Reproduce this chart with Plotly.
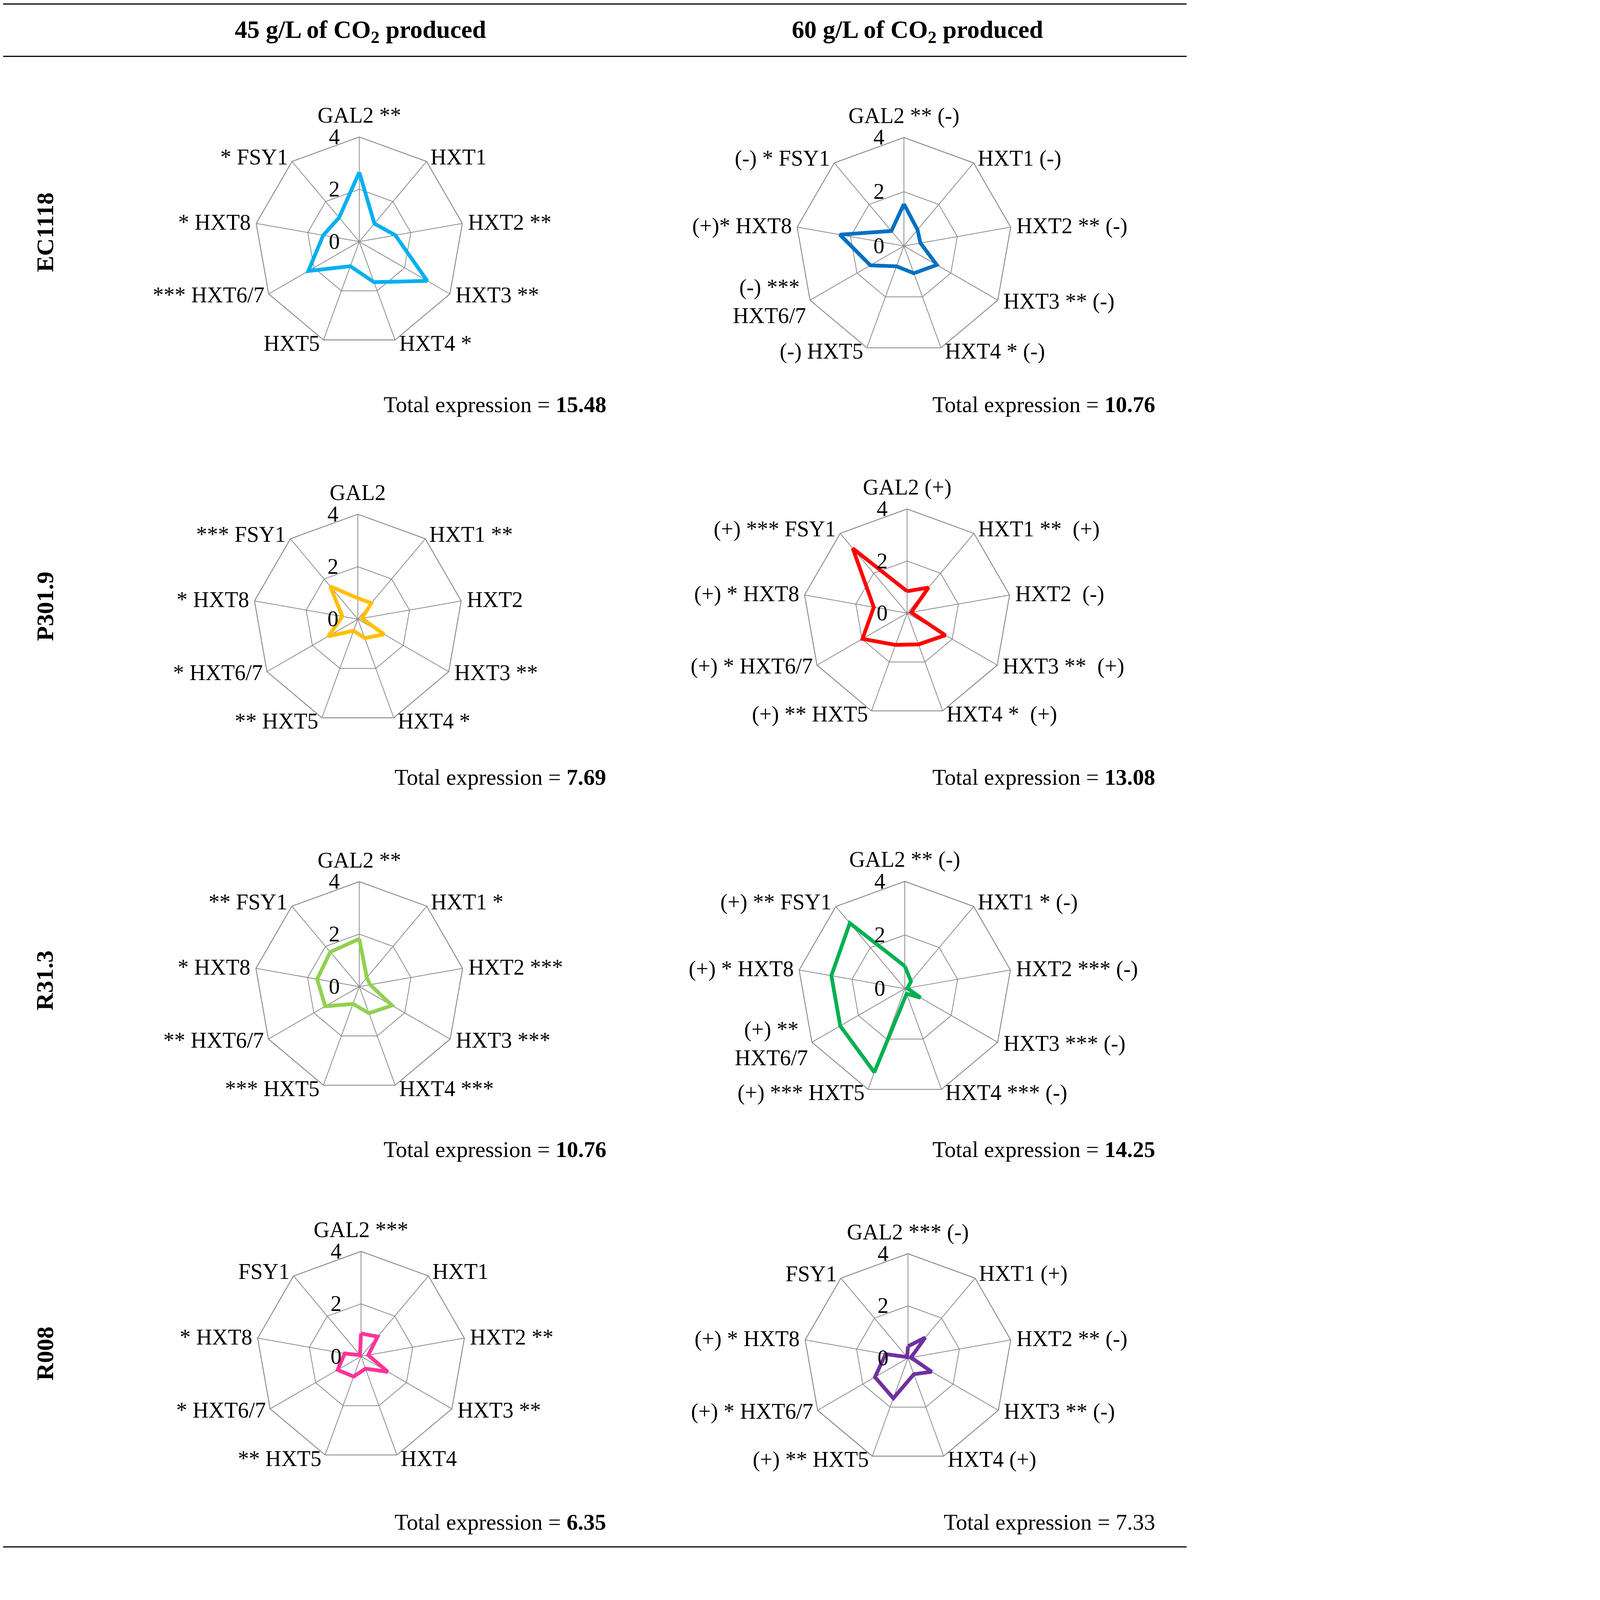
import math

import plotly.graph_objects as go

# reference page size; the browser window is capped at 4096 px, so the whole
# figure is drawn at a uniform scale that fits inside it
W, H = 4351, 5486
S = 0.74
FONT = "Liberation Serif"
GRID = "#8c8c8c"

# ---- data -----------------------------------------------------------------
GENES = ["GAL2", "HXT1", "HXT2", "HXT3", "HXT4", "HXT5", "HXT6/7", "HXT8", "FSY1"]
STRAINS = ["EC1118", "P301.9", "R31.3", "R008"]
CONDITIONS = ["45 g/L of CO<sub>2</sub> produced", "60 g/L of CO<sub>2</sub> produced"]

EC1118_45 = [2.65, 0.90, 1.40, 3.00, 1.65, 1.00, 2.25, 1.40, 1.20]
EC1118_60 = [1.55, 0.78, 0.62, 1.40, 1.07, 0.80, 1.43, 2.40, 0.72]
P301_45 = [0.80, 0.80, 0.16, 1.15, 0.77, 0.47, 1.30, 0.60, 1.63]
P301_60 = [0.84, 1.28, 0.16, 1.70, 1.28, 1.30, 1.98, 1.30, 3.25]
R31_45 = [1.82, 0.45, 0.42, 1.44, 1.08, 0.70, 1.50, 1.63, 1.72]
R31_60 = [0.84, 0.36, 0.10, 0.68, 0.20, 3.32, 2.78, 2.78, 3.19]
R008_45 = [0.87, 0.98, 0.28, 1.18, 0.50, 0.82, 1.03, 0.63, 0.06]
R008_60 = [0.45, 1.03, 0.12, 1.05, 0.66, 1.64, 1.46, 0.87, 0.05]

EC1118_45_LABELS = ["GAL2 **", "HXT1", "HXT2 **", "HXT3 **", "HXT4 *",
                    "HXT5", "*** HXT6/7", "* HXT8", "* FSY1"]
EC1118_60_LABELS = ["GAL2 ** (-)", "HXT1 (-)", "HXT2 ** (-)", "HXT3 ** (-)", "HXT4 * (-)",
                    "(-) HXT5", "(-) ***<br>HXT6/7", "(+)* HXT8", "(-) * FSY1"]
P301_45_LABELS = ["GAL2", "HXT1 **", "HXT2", "HXT3 **", "HXT4 *",
                  "** HXT5", "* HXT6/7", "* HXT8", "*** FSY1"]
P301_60_LABELS = ["GAL2 (+)", "HXT1 **\u00a0 (+)", "HXT2 \u00a0(-)", "HXT3 **\u00a0 (+)",
                  "HXT4 *\u00a0 (+)", "(+) ** HXT5", "(+) * HXT6/7", "(+) * HXT8",
                  "(+) *** FSY1"]
R31_45_LABELS = ["GAL2 **", "HXT1 *", "HXT2 ***", "HXT3 ***", "HXT4 ***",
                 "*** HXT5", "** HXT6/7", "* HXT8", "** FSY1"]
R31_60_LABELS = ["GAL2 ** (-)", "HXT1 * (-)", "HXT2 *** (-)", "HXT3 *** (-)", "HXT4 *** (-)",
                 "(+) *** HXT5", "(+) **<br>HXT6/7", "(+) * HXT8", "(+) ** FSY1"]
R008_45_LABELS = ["GAL2 ***", "HXT1", "HXT2 **", "HXT3 **", "HXT4",
                  "** HXT5", "* HXT6/7", "* HXT8", "FSY1"]
R008_60_LABELS = ["GAL2 *** (-)", "HXT1 (+)", "HXT2 ** (-)", "HXT3 ** (-)", "HXT4 (+)",
                  "(+) ** HXT5", "(+) * HXT6/7", "(+) * HXT8", "FSY1"]

TOTALS_45 = ["<b>15.48</b>", "<b>7.69</b>", "<b>10.76</b>", "<b>6.35</b>"]
TOTALS_60 = ["<b>10.76</b>", "<b>13.08</b>", "<b>14.25</b>", "7.33"]

# (values, labels, total, colour, centre x, centre y, radius) in reference pixels
PANELS = [
    (EC1118_45, EC1118_45_LABELS, TOTALS_45[0], "#00B0F0", 1232, 825, 362),
    (EC1118_60, EC1118_60_LABELS, TOTALS_60[0], "#0070C0", 3116, 840, 375),
    (P301_45, P301_45_LABELS, TOTALS_45[1], "#FFC000", 1227, 2131, 363),
    (P301_60, P301_60_LABELS, TOTALS_60[1], "#FF0000", 3127, 2110, 360),
    (R31_45, R31_45_LABELS, TOTALS_45[2], "#92D050", 1232, 3402, 363),
    (R31_60, R31_60_LABELS, TOTALS_60[2], "#00B050", 3119, 3409, 371),
    (R008_45, R008_45_LABELS, TOTALS_45[3], "#FF3399", 1238, 4681, 363),
    (R008_60, R008_60_LABELS, TOTALS_60[3], "#7030A0", 3130, 4687, 361),
]
TOTAL_X = [2089, 3987]
TOTAL_Y = [1389, 2677, 3965, 5254]
ROW_Y = [793, 2087, 3381, 4672]
HEAD_X = [1236, 3163]

# label offsets from each polygon vertex (reference px)
LABEL_GAP = [0, 11, 17, 17, 11, 10, 12, 16, 12]
LABEL_DY = [-75, -15, -4, 4, 12, 12, 4, -4, -15]


def px(x):
    return x / W


def py(y):
    return 1 - y / H


def font(size, color="black"):
    return dict(family=FONT, size=size * S, color=color)


fig = go.Figure()
annotations = []
layout_polars = {}

for k, (vals, labels, total, color, cx, cy, R) in enumerate(PANELS):
    name = "polar" if k == 0 else f"polar{k + 1}"
    fig.add_trace(go.Scatterpolar(
        r=vals + vals[:1], theta=GENES + GENES[:1], mode="lines",
        line=dict(color=color, width=13 * S), subplot=name, showlegend=False,
    ))
    layout_polars[name] = dict(
        domain=dict(x=[px(cx - R), px(cx + R)], y=[py(cy + R), py(cy - R)]),
        bgcolor="white", gridshape="linear",
        radialaxis=dict(range=[0, 4], tickvals=[0, 2, 4], showline=False,
                        gridcolor=GRID, gridwidth=3.2 * S, angle=90,
                        side="counterclockwise", tickangle=90,
                        ticks="outside", ticklen=40 * S, tickcolor="rgba(0,0,0,0)",
                        tickfont=font(76)),
        angularaxis=dict(direction="clockwise", rotation=90, categoryorder="array",
                         categoryarray=GENES, showticklabels=False, ticks="",
                         gridcolor=GRID, gridwidth=3.2 * S, showline=True,
                         linecolor=GRID, linewidth=3.2 * S),
    )

    # angular labels next to each vertex
    for i, lab in enumerate(labels):
        ang = math.radians(90 - 40 * i)
        vx = cx + R * math.cos(ang)
        vy = cy - R * math.sin(ang)
        if i == 0:
            x, anchor = vx, "center"
        elif math.cos(ang) > 0:
            x, anchor = vx + LABEL_GAP[i], "left"
        else:
            x, anchor = vx - LABEL_GAP[i], "right"
        annotations.append(dict(
            x=px(x), y=py(vy + LABEL_DY[i]), xref="paper", yref="paper",
            text=lab, showarrow=False, xanchor=anchor, yanchor="middle",
            align="center", font=font(76),
        ))

    annotations.append(dict(
        x=px(TOTAL_X[k % 2]), y=py(TOTAL_Y[k // 2]), xref="paper", yref="paper",
        text="Total expression = " + total, showarrow=False,
        xanchor="right", yanchor="middle", font=font(78),
    ))

for j, cond in enumerate(CONDITIONS):
    annotations.append(dict(
        x=px(HEAD_X[j]), y=py(97), xref="paper", yref="paper",
        text=f"<b>{cond}</b>", showarrow=False, xanchor="center", yanchor="middle",
        font=font(86),
    ))

for r, strain in enumerate(STRAINS):
    annotations.append(dict(
        x=px(144), y=py(ROW_Y[r]), xref="paper", yref="paper",
        text=f"<b>{strain}</b>", showarrow=False, textangle=-90,
        xanchor="center", yanchor="middle", font=font(84),
    ))

shapes = [
    dict(type="line", xref="paper", yref="paper", x0=0, x1=px(4094),
         y0=py(yy), y1=py(yy), line=dict(color="black", width=4 * S))
    for yy in (3, 184, 5340)
]

fig.update_layout(
    width=round(W * S), height=round(H * S), margin=dict(l=0, r=0, t=0, b=0),
    paper_bgcolor="white", plot_bgcolor="white",
    annotations=annotations, shapes=shapes, **layout_polars,
)

fig.write_html("out.html")
